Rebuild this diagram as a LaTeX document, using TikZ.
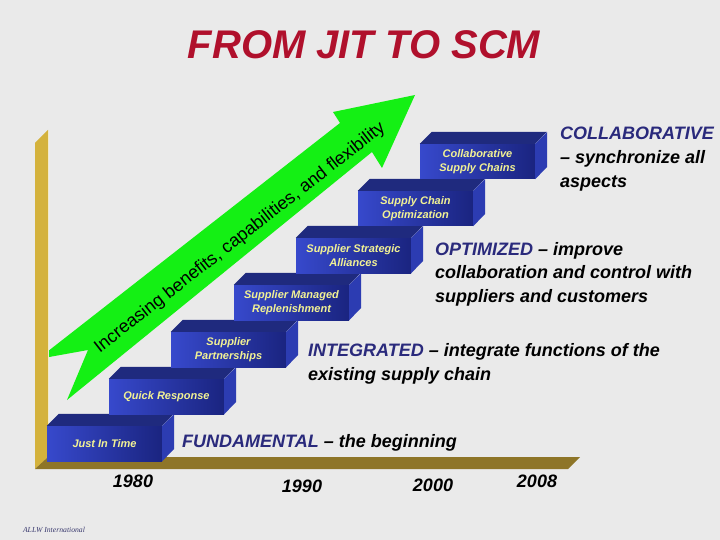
\documentclass[tikz,border=0pt]{standalone}
\usepackage{fontspec}
\setmainfont{Liberation Sans}
\newfontfamily\allwfont{Liberation Serif}
\definecolor{bg}{HTML}{EAEAEA}
\definecolor{titlered}{HTML}{B0102C}
\definecolor{navy}{HTML}{2A2A7C}
\definecolor{gold}{HTML}{D4B23C}
\definecolor{goldedge}{HTML}{F2EAC8}
\definecolor{olive}{HTML}{8E7528}
\definecolor{arrowgreen}{HTML}{14F014}
\definecolor{boxlight}{HTML}{3749CC}
\definecolor{boxdark}{HTML}{1A2480}
\definecolor{boxtop}{HTML}{1F2A7E}
\definecolor{boxside}{HTML}{2C3CB2}
\definecolor{boxtext}{HTML}{F2F294}
\definecolor{allw}{HTML}{3C3C70}
\tikzset{
  frontface/.style={minimum width=115pt, minimum height=35pt, inner sep=0pt,
    left color=boxlight, right color=boxdark, text=boxtext, align=center,
    font=\fontsize{11}{14}\selectfont\bfseries\itshape},
  label/.style={anchor=base west, inner sep=0pt,
    font=\fontsize{18}{23}\selectfont\bfseries\itshape},
  year/.style={inner sep=0pt, font=\fontsize{18}{18}\selectfont\bfseries\itshape}
}
\newcommand\jitstep[4]{%
  \node[frontface] (#1) at ({#2+57.5},{#3+17.5}) {#4};
  \fill[boxtop] (#1.north west) -- ++(12,-12) -- ++(115,0) -- (#1.north east) -- cycle;
  \fill[boxside] (#1.north east) -- ++(12,-12) -- ++(0,35) -- (#1.south east) -- cycle;
}
\begin{document}
\begin{tikzpicture}[x=1pt,y=-1pt]
\fill[bg] (0,0) rectangle (720,540);
\useasboundingbox (0,0) rectangle (720,540);
% title
\node[inner sep=0pt, text=titlered, font=\fontsize{40}{40}\selectfont\bfseries\itshape] (title) at (364,45) {FROM JIT TO SCM};
% green arrow
\fill[arrowgreen] (38,359) -- (88,350) -- (67,400) -- (372,152) -- (382,168) -- (415,95) -- (333,112) -- (340,123) -- cycle;
\node[rotate=38, inner sep=0pt, font=\fontsize{18}{18}\selectfont] (arrowtext) at (240,238) {Increasing benefits, capabilities, and flexibility};
% axes
\fill[gold] (35,143) -- (48,130) -- (48,457) -- (35,469) -- cycle;
\draw[goldedge, line width=1pt] (48.5,131) -- (48.5,457);
\fill[olive] (35,469) -- (48,457) -- (580,457) -- (568,469) -- cycle;
% steps
\jitstep{s1}{47}{426}{Just In Time}
\jitstep{s2}{109}{379}{Quick Response}
\jitstep{s3}{171}{332}{Supplier\\Partnerships}
\jitstep{s4}{234}{285}{Supplier Managed\\Replenishment}
\jitstep{s5}{296}{238}{Supplier Strategic\\Alliances}
\jitstep{s6}{358}{191}{Supply Chain\\Optimization}
\jitstep{s7}{420}{144}{Collaborative\\Supply Chains}
% labels
\node[label] (c1) at (560,140) {\textcolor{navy}{COLLABORATIVE}};
\node[label] (c2) at (560,164) {\textendash\ synchronize all};
\node[label] (c3) at (560,188) {aspects};
\node[label] (o1) at (435,255) {\textcolor{navy}{OPTIMIZED} \textendash\ improve};
\node[label] (o2) at (435,278) {collaboration and control with};
\node[label] (o3) at (435,302) {suppliers and customers};
\node[label] (i1) at (308,356) {\textcolor{navy}{INTEGRATED} \textendash\ integrate functions of the};
\node[label] (i2) at (308,380) {existing supply chain};
\node[label] (f1) at (182,447) {\textcolor{navy}{FUNDAMENTAL} \textendash\ the beginning};
% years
\node[year] (y1980) at (133,481) {1980};
\node[year] (y1990) at (302,486) {1990};
\node[year] (y2000) at (433,485) {2000};
\node[year] (y2008) at (537,481) {2008};
% footer
\node[inner sep=0pt, text=allw, font=\allwfont\itshape\fontsize{7.7}{8}\selectfont] (allw) at (54,530) {ALLW International};
\end{tikzpicture}
\end{document}
